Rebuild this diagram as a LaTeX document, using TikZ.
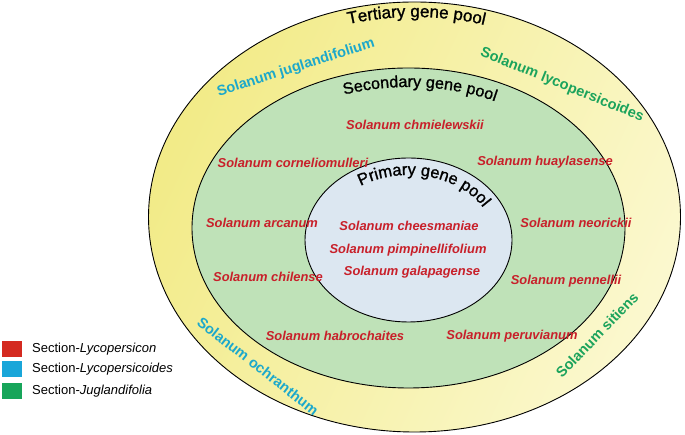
\documentclass[tikz,border=0pt]{standalone}
\usepackage{fontspec}
\setmainfont{Liberation Sans}
\newfontfamily\pooltitle[FakeBold=1.2]{Liberation Sans}
\usetikzlibrary{decorations.text}
\definecolor{redS}{HTML}{C8202A}
\definecolor{cyanS}{HTML}{1CA8CB}
\definecolor{greenS}{HTML}{1BA35C}
\definecolor{yelL}{HTML}{F2EB88}
\definecolor{yelR}{HTML}{FBF8CE}
\definecolor{greenF}{HTML}{BFE2B8}
\definecolor{blueF}{HTML}{DCE7F1}
\definecolor{legR}{HTML}{D42A20}
\definecolor{legB}{HTML}{19A6D9}
\definecolor{legG}{HTML}{17A55A}
\begin{document}
\begin{tikzpicture}[x=1pt,y=1pt,
  sp/.style={text=redS,font=\fontsize{12.9}{15}\selectfont\bfseries\itshape,inner sep=0pt},
  sc/.style={text=cyanS,font=\fontsize{14.5}{16}\selectfont\bfseries,inner sep=0pt},
  sg/.style={text=greenS,font=\fontsize{14.5}{16}\selectfont\bfseries,inner sep=0pt},
  legbox/.style={inner sep=0pt,minimum width=20pt,minimum height=16pt},
  legtext/.style={anchor=west,inner sep=0pt,font=\fontsize{13}{15}\selectfont},
  pool/.style={line width=0.9pt,draw=black}]
\useasboundingbox (0,0) rectangle (685,435);
% pools
\draw[pool,top color=yelL,bottom color=yelR,shading angle=65] (414.5,218) ellipse [x radius=266,y radius=215];
\draw[pool,fill=greenF] (408.5,207) ellipse [x radius=216.5,y radius=160];
\draw[pool,fill=blueF] (408.5,195) ellipse [x radius=103.5,y radius=82];
% curved titles
\path[decorate,decoration={text along path,text align=center,
  text={|\pooltitle\fontsize{17}{20}\selectfont|Tertiary gene pool}}]
  (414.5,218) ++(135:250 and 200) arc[start angle=135,end angle=44,x radius=250,y radius=200];
\path[decorate,decoration={text along path,text align=center,
  text={|\pooltitle\fontsize{16.2}{19}\selectfont|Secondary gene pool}}]
  (408.5,207) ++(136:197 and 141) arc[start angle=136,end angle=36,x radius=197,y radius=141];
\path[decorate,decoration={text along path,text align=center,
  text={|\pooltitle\fontsize{16.5}{19}\selectfont|Primary gene pool}}]
  (408.5,195) ++(155:86 and 65) arc[start angle=155,end angle=-5,x radius=86,y radius=65];
% red species
\node[sp] (chm) at (415,310) {Solanum chmielewskii};
\node[sp] (corn) at (293,272) {Solanum corneliomulleri};
\node[sp] (huay) at (545,273) {Solanum huaylasense};
\node[sp] (arca) at (262,212) {Solanum arcanum};
\node[sp] (chee) at (409,209) {Solanum cheesmaniae};
\node[sp] (pimp) at (408,185) {Solanum pimpinellifolium};
\node[sp] (gala) at (412,163) {Solanum galapagense};
\node[sp] (chil) at (268,158) {Solanum chilense};
\node[sp] (neor) at (576,212) {Solanum neorickii};
\node[sp] (penn) at (566,154) {Solanum pennellii};
\node[sp] (peru) at (512,99) {Solanum peruvianum};
\node[sp] (habr) at (335,99) {Solanum habrochaites};
% outer band species
\node[sc,rotate=17.5] (jugl) at (296,367) {Solanum juglandifolium};
\node[sg,rotate=-22] (lyco) at (562,350) {Solanum lycopersicoides};
\node[sc,rotate=-38] (ochr) at (258,69) {Solanum ochranthum};
\node[sg,rotate=46] (siti) at (597,100) {Solanum sitiens};
% legend
\node[legbox,fill=legR] (lr) at (12,86) {};
\node[legbox,fill=legB] (lb) at (12,65.5) {};
\node[legbox,fill=legG] (lg) at (12,44) {};
\node[legtext] (tr) at (32,86) {Section-\textit{Lycopersicon}};
\node[legtext] (tb) at (32,65.5) {Section-\textit{Lycopersicoides}};
\node[legtext] (tg) at (32,44) {Section-\textit{Juglandifolia}};
\end{tikzpicture}
\end{document}
